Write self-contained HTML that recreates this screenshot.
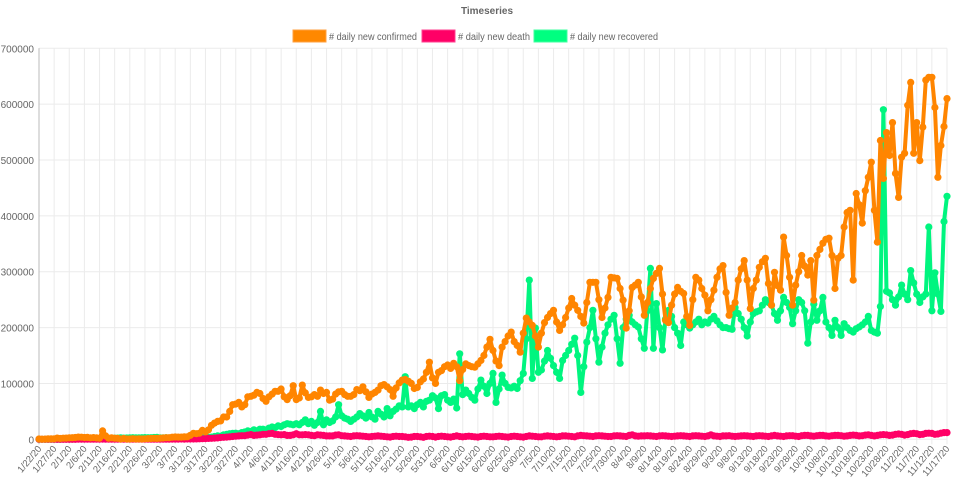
<!DOCTYPE html>
<html><head><meta charset="utf-8">
<style>
html,body{margin:0;padding:0;background:#fff;}
svg{display:block;font-family:"Liberation Sans",sans-serif;}
</style></head>
<body>
<svg id="chart" width="974" height="479" viewBox="0 0 974 479" xmlns="http://www.w3.org/2000/svg">
  <text x="487" y="14" text-anchor="middle" font-size="10" font-weight="bold" fill="#666">Timeseries</text>
  <g font-size="10" fill="#666">
    <g>
      <rect x="293" y="30" width="33" height="12" fill="#ff8800" stroke="#ffa040"/>
      <text x="329" y="40" textLength="88" lengthAdjust="spacingAndGlyphs"># daily new confirmed</text>
    </g>
    <g>
      <rect x="422" y="30" width="33" height="12" fill="#ff0066" stroke="#ff4090"/>
      <text x="458" y="40" textLength="72" lengthAdjust="spacingAndGlyphs"># daily new death</text>
    </g>
    <g>
      <rect x="534" y="30" width="33" height="12" fill="#00ff80" stroke="#40ffa0"/>
      <text x="570" y="40" textLength="88" lengthAdjust="spacingAndGlyphs"># daily new recovered</text>
    </g>
  </g>
  <g id="grid"></g>
  <g id="yaxis"></g>
  <g id="xaxis"></g>
  <g id="series"></g>
</svg>
<script>
// values in thousands
const yTicks = [0,100000,200000,300000,400000,500000,600000,700000];
const startDate = [2020,1,22];
const confirmed = [
0.6,0.1,0.3,0.7,0.8,0.9,2.1,1.5,2,2.1,
2.6,2.8,3.2,3.9,3.7,3.2,3.4,2.7,3,2.5,
2,15,6,2,2.6,2,1.8,0.6,1.4,0.5,
0.6,1,0.6,0.8,0.6,0.9,1.2,1.4,1.8,1.7,
2,2.4,2.8,2.9,3.7,4.1,3.9,3.9,4.3,4.4,
7.2,10.8,10,11,16,13.5,17,25,29,32,
33,40,40,50,62,63,66,58,62,76,
77,79,84,82,73,68,76,81,86,86,
90,76,71,78,96,71,74,97,83,75,
76,80,77,88,82,84,70,72,81,85,
86,80,77,77,80,89,87,94,85,75,
81,84,88,96,98,94,89,77,92,101,
106,107,104,100,91,93,103,108,120,138,
110,100,120,123,130,133,127,136,130,105,
125,135,132,130,129,135,141,150,165,179,
159,140,132,165,175,185,192,175,168,156,
190,217,210,204,185,165,190,209,218,225,
231,210,195,205,218,235,252,240,231,220,
208,245,281,281,281,250,218,235,254,290,
289,288,270,249,199,230,272,276,281,255,
222,245,270,288,297,306,260,213,209,240,
260,272,265,261,220,204,250,290,285,270,
258,230,250,267,290,305,311,263,222,235,
245,285,305,320,285,234,270,285,308,318,
324,279,240,299,275,267,362,329,290,240,
276,300,329,310,294,320,249,329,340,351,
358,360,329,270,324,329,380,406,410,285,
440,420,387,445,469,496,410,353,535,467,
549,508,567,476,433,505,512,598,639,512,
567,499,559,643,648,648,594,469,526,560,
610];
const deaths = [
0,0,0,0,0,0,0,0,0,0,
0,0,0,0.1,0.1,0.1,0.1,0.1,0.1,0.1,
0.1,0.3,0.1,0.1,0.1,0.1,0.1,0.1,0.1,0.1,
0.1,0.1,0.1,0.1,0.1,0.1,0.1,0.1,0.1,0.1,
0.1,0.1,0.1,0.2,0.3,0.3,0.4,0.5,0.4,0.5,
0.6,0.5,0.8,0.9,1,1.2,1.6,1.8,2.2,2.5,
3.2,3.5,4,4.5,5,5.5,6,6.4,6.5,7.5,
8.5,7,7.5,8,9,9,10,10.5,9,8.5,
8,8.5,7,7,8,10,8,8,8.5,8,
7,6.5,8,7.5,7,6,6,6,7.5,8,
6.5,6,5.5,5,6,6.5,6,5.5,5,4.5,
5,5.5,6,5.5,5,4.5,4,5,5.5,5,
5,4.5,3.5,4,5,5,4.5,3.5,5,5.5,
5,4,5,5.5,5,4.5,4,5,6,5,
4.5,5,5.5,5,4.5,4,5,5.5,5,4.5,
4.5,5,5.5,5,4.5,4,5,5.5,5,4.5,
4,5,6,5.5,5,4.5,4.5,5.5,6,5.5,
5,4.5,5,6,6,5.5,5,4.5,6,7,
6.5,6,5.5,5,6,6.5,6,5.5,5,5,
6,6.5,6,5.5,5,7,8,6,5.5,6,
6,6.5,6,5.5,5,6,6.5,6,5.5,5,
5.5,6,6.5,6,5.5,5,6,6.5,6,5.5,
5,6,8,6,5.5,5,6,6,6.5,5.5,
5,5.5,6,6.5,6,5.5,5,6,6.5,6,
5.5,5,6,7,6,5.5,5,6,6.5,6.5,
5.5,5,6.5,7,7,6,5.5,6.5,7,7,
6,5.5,6.5,7,7,6.5,5.5,6,7,7.5,
7,6,6.5,7.5,8,7,6,7,8,8.5,
8,7,7.5,9,9.5,9,7.5,8.5,10,10.5,
10,8.5,9,10.5,11,10.5,9,9.5,11,12,
12];
const recovered = [
0,0,0,0,0,0,0,0,0.1,0.1,
0.1,0.2,0.3,0.5,0.6,0.6,0.7,0.8,0.9,1,
1.2,1.5,1.8,1.7,1.8,2,2.1,2.5,2.2,2.3,
2.5,2.8,2.5,2.6,2.8,3,2.8,2.9,3.2,3.4,
2.5,2.5,2.8,2.4,2.5,1.8,2.6,2.4,2,2.4,
1.8,1.5,2.1,2.9,3,3.5,3.8,4,5,6,
5.5,8,9,10,10.5,11,10,12,13,15,
14,17,15,18,18,17,20,22,21,24,
23,26,28,27,26,28,26,30,35,28,
32,25,30,50,26,35,30,33,40,62,
42,38,36,32,36,40,46,42,38,48,
40,36,50,45,40,55,42,50,54,60,
58,112,58,60,55,62,66,58,68,70,
78,74,55,78,80,70,66,72,56,153,
80,88,82,75,70,90,106,95,82,100,
118,66,90,115,100,93,92,95,91,105,
118,180,285,109,199,120,124,140,159,145,
132,120,109,141,150,159,170,181,150,84,
130,174,200,231,180,138,165,190,205,215,
222,180,136,200,215,222,210,205,201,180,
163,230,306,163,243,200,160,215,231,220,
200,190,168,210,205,199,205,210,215,205,
210,208,215,220,212,205,200,200,198,197,
236,225,215,200,185,210,225,228,230,240,
250,245,240,225,213,230,254,245,236,207,
230,250,245,230,172,210,242,213,230,254,
210,200,186,213,200,186,207,200,195,192,
198,201,205,210,220,195,192,190,238,590,
265,262,250,240,255,276,260,250,302,280,
260,245,255,260,380,230,298,260,229,390,
435];

const NS = "http://www.w3.org/2000/svg";
const X0 = 39, X1 = 947, Y0 = 439.3, YTOP = 48.3, YMAX = 700000;
const N = confirmed.length;
function xScale(i){ return X0 + i*(X1-X0)/(N-1); }
function yScale(v){ return Y0 - (v*1000)/YMAX*(Y0-YTOP); }
function mk(tag, attrs, parent){ const e=document.createElementNS(NS,tag); for(const k in attrs) e.setAttribute(k,attrs[k]); parent.appendChild(e); return e; }

const grid = document.getElementById('grid');
const yaxis = document.getElementById('yaxis');
const xaxis = document.getElementById('xaxis');
const series = document.getElementById('series');

yTicks.forEach(t=>{
  const y = Y0 - t/YMAX*(Y0-YTOP);
  const gl = mk('line',{x1:X0,x2:X1,y1:y,y2:y,stroke:'#ebebeb','stroke-width':1},grid);
  
  
  const tx = mk('text',{x:34,y:y+4,'text-anchor':'end','font-size':10,fill:'#666'},yaxis);
  tx.textContent = String(t);
  
  
});
const ax = mk('line',{x1:X0,x2:X0,y1:YTOP,y2:Y0+5,stroke:'#bbb','stroke-width':1},yaxis);



const d0 = new Date(startDate[0], startDate[1]-1, startDate[2]);
for(let i=0;i<N;i+=5){
  const x = xScale(i);
  const gl = mk('line',{x1:x,x2:x,y1:YTOP,y2:Y0+5,stroke:'#ebebeb','stroke-width':1},grid);
  
  
  const d = new Date(d0.getTime()+i*86400000);
  const lbl = (d.getMonth()+1)+'/'+d.getDate()+'/20';
  const tx = mk('text',{x:x+3,y:449,'text-anchor':'end','font-size':9.5,fill:'#666',transform:'rotate(-50 '+(x+3)+' 449)'},xaxis);
  tx.textContent = lbl;
  
  
}

function drawSeries(vals, color, name){
  const g = mk('g',{},series);
  
  
  const pts = vals.map((v,i)=>xScale(i).toFixed(1)+','+yScale(v).toFixed(1)).join(' ');
  const pl = mk('polyline',{points:pts,fill:'none',stroke:color,'stroke-width':4,'stroke-linejoin':'round'},g);
  
  
  vals.forEach((v,i)=>{
    const c = mk('circle',{cx:xScale(i).toFixed(1),cy:yScale(v).toFixed(1),r:3.6,fill:color},g);
    
    
  });
}
drawSeries(recovered,'#00f57f','recovered');
drawSeries(deaths,'#ff0066','death');
drawSeries(confirmed,'#ff8500','confirmed');
</script>
</body></html>
